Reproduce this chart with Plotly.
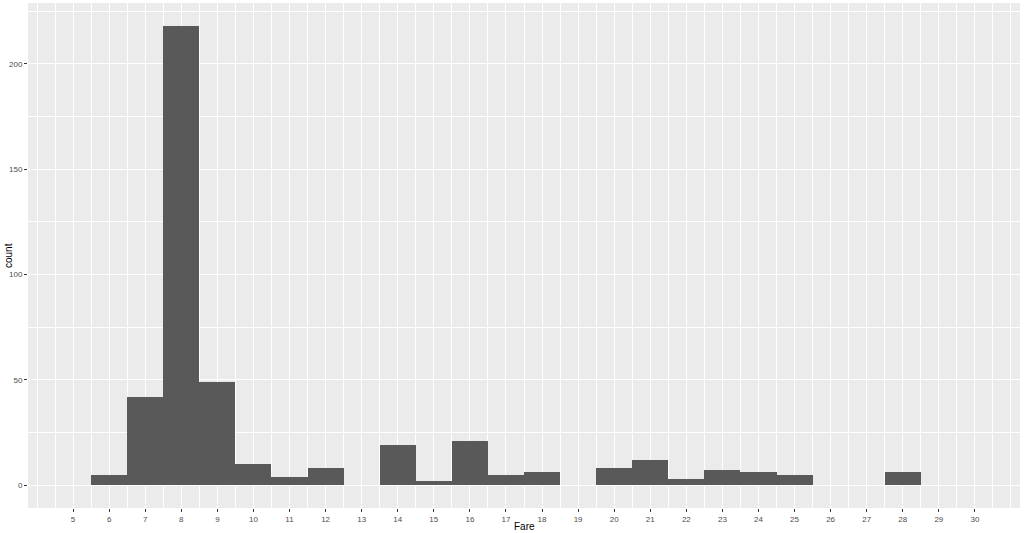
import plotly.graph_objects as go

# Fare histogram, binwidth 1 (bin centres and counts)
fare = [6, 7, 8, 9, 10, 11, 12, 13, 14, 15, 16, 17, 18, 19, 20,
        21, 22, 23, 24, 25, 26, 27, 28, 29, 30]
count = [5, 42, 218, 49, 10, 4, 8, 0, 19, 2, 21, 5, 6, 0, 8,
         12, 3, 7, 6, 5, 0, 0, 6, 0, 0]

x_ticks = list(range(5, 31))
y_ticks = [0, 50, 100, 150, 200]
x_minor = [4 + 0.5 * i for i in range(55)]
y_minor = [25, 75, 125, 175, 225]


def fare_histogram():
    fig = go.Figure()
    fig.add_trace(go.Bar(x=fare, y=count, width=1,
                         marker=dict(color="#595959", line=dict(width=0))))

    fig.update_layout(
        width=1024, height=533,
        margin={"l": 28, "r": 4, "t": 3, "b": 25},
        paper_bgcolor="white", plot_bgcolor="#ebebeb",
        font=dict(family="Liberation Sans, Arial", color="#4d4d4d", size=8),
        showlegend=False, bargap=0,
    )
    fig.update_xaxes(
        range=[3.75, 31.25], tickmode="array", tickvals=x_ticks,
        automargin=False,
        showgrid=True, gridcolor="white", gridwidth=1.1, zeroline=False,
        ticks="outside", ticklen=3, tickcolor="#333333",
        minor=dict(tickmode="array", tickvals=x_minor, showgrid=True,
                   gridcolor="white", gridwidth=0.6, ticks=""),
    )
    fig.update_yaxes(
        range=[-10.9, 228.9], tickmode="array", tickvals=y_ticks,
        automargin=False,
        showgrid=True, gridcolor="white", gridwidth=1.1, zeroline=False,
        ticks="outside", ticklen=3, tickcolor="#333333",
        minor=dict(tickmode="array", tickvals=y_minor, showgrid=True,
                   gridcolor="white", gridwidth=0.6, ticks=""),
    )

    # axis titles placed by hand, as ggplot puts them
    fig.add_annotation(text="Fare", xref="paper", yref="paper", x=0.5, y=0,
                       yshift=-11, showarrow=False, yanchor="top",
                       font=dict(size=10, color="black"))
    fig.add_annotation(text="count", xref="paper", yref="paper", x=0, y=0.5,
                       xshift=-27, showarrow=False, xanchor="left", textangle=-90,
                       font=dict(size=10, color="black"))

    # page body has an 8px default margin, drop it so the figure fills the window
    fig.write_html("out.html", config={"displayModeBar": False},
                   post_script="document.body.style.margin='0';document.body.style.overflow='hidden';")


def main():
    fare_histogram()


if __name__ == "__main__":
    main()
